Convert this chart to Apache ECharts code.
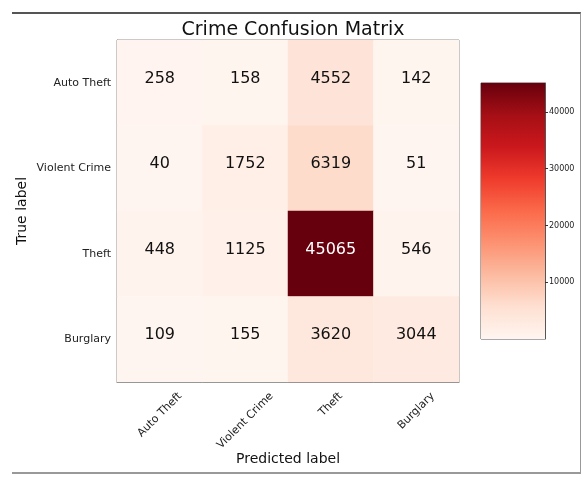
<!DOCTYPE html>
<html>
<head>
<meta charset="utf-8">
<title>Crime Confusion Matrix</title>
<script src="https://cdn.jsdelivr.net/npm/echarts@6/dist/echarts.min.js"></script>
<style>
  html, body { margin: 0; padding: 0; background: #fff; }
  #main { width: 585px; height: 478px; }
  /* screenshot frame round the figure */
  #frame {
    position: absolute; left: 12px; top: 12px; width: 568px; height: 458px;
    border-top: 2px solid #555; border-right: 1px solid #999; border-bottom: 2px solid #999;
    pointer-events: none;
  }
</style>
</head>
<body>
<div id="main"></div>
<div id="frame"></div>
<script>
// data
var classes = ['Auto Theft', 'Violent Crime', 'Theft', 'Burglary'];
var autoTheftRow = [258, 158, 4552, 142];
var violentCrimeRow = [40, 1752, 6319, 51];
var theftRow = [448, 1125, 45065, 546];
var burglaryRow = [109, 155, 3620, 3044];
var colorbarTicks = [10000, 20000, 30000, 40000];
// matplotlib Reds
var reds = ['#fff5f0', '#fee0d2', '#fcbba1', '#fc9272', '#fb6a4a', '#ef3b2c', '#cb181d', '#a50f15', '#67000d'];

(function () {
  var rows = [autoTheftRow, violentCrimeRow, theftRow, burglaryRow];
  var all = [].concat.apply([], rows);
  var vmin = Math.min.apply(null, all);
  var vmax = Math.max.apply(null, all);
  var thresh = vmax / 2;

  var cells = [];
  rows.forEach(function (row, i) {
    row.forEach(function (v, j) {
      cells.push({
        value: [j, i, v],
        label: { color: v > thresh ? '#ffffff' : '#111111' }
      });
    });
  });

  var font = 'DejaVu Sans';
  var xLabelSize = 11;

  // matplotlib centres a rotated tick label under its tick with the top of
  // the box just below the axis; push each label down by half its box height
  // (padding on the right moves it left in text space, an empty first line
  // of height p moves it down in text space)
  var ctx = document.createElement('canvas').getContext('2d');
  ctx.font = xLabelSize + 'px "' + font + '"';
  var xCats = classes.map(function (name) {
    var w = ctx.measureText(name).width;
    var h = xLabelSize * 1.15;
    var p = (w + h) / 2;
    return {
      value: name,
      textStyle: { align: 'center', verticalAlign: 'middle', lineHeight: p, padding: [0, p, 0, 0] }
    };
  });

  var myChart = echarts.init(document.getElementById('main'));
  var option = {
    animation: false,
    textStyle: { fontFamily: font },
    title: {
      text: 'Crime Confusion Matrix',
      left: 288,
      top: 16,
      textAlign: 'center',
      textStyle: { fontFamily: font, fontSize: 19, fontWeight: 'normal', color: '#111' }
    },
    grid: [
      { left: 117, top: 40, right: 126, bottom: 96, show: true, borderColor: '#777', borderWidth: 1 },
      { left: 481, top: 83, right: 40, bottom: 139, show: true, borderColor: '#555', borderWidth: 1 }
    ],
    xAxis: [
      {
        gridIndex: 0,
        type: 'category',
        data: xCats,
        name: 'Predicted label',
        nameLocation: 'middle',
        nameGap: 70,
        nameMoveOverlap: false,
        nameTextStyle: { fontSize: 14, color: '#111' },
        axisLine: { lineStyle: { color: '#777' } },
        axisTick: { alignWithLabel: true, interval: 0, length: 4, lineStyle: { color: '#333' } },
        axisLabel: {
          rotate: 45, interval: 0, hideOverlap: false,
          fontSize: xLabelSize, color: '#222', margin: 8,
          formatter: function (v) { return '\n' + v; }
        },
        splitLine: { show: false }
      },
      {
        gridIndex: 1,
        type: 'category',
        data: [''],
        show: false
      }
    ],
    yAxis: [
      {
        gridIndex: 0,
        type: 'category',
        data: classes,
        inverse: true,
        name: 'True label',
        nameLocation: 'middle',
        nameGap: 88,
        nameMoveOverlap: false,
        nameRotate: 90,
        nameTextStyle: { fontSize: 14, color: '#111' },
        axisLine: { lineStyle: { color: '#777' } },
        axisTick: { alignWithLabel: true, interval: 0, length: 4, lineStyle: { color: '#333' } },
        axisLabel: { fontSize: 11, color: '#222', margin: 6, interval: 0 },
        splitLine: { show: false }
      },
      {
        gridIndex: 1,
        type: 'value',
        position: 'right',
        min: vmin,
        max: vmax,
        axisLine: { show: true, lineStyle: { color: '#555' } },
        axisTick: { show: true, length: 3, customValues: colorbarTicks, lineStyle: { color: '#333' } },
        axisLabel: {
          fontSize: 8, color: '#222', margin: 4, customValues: colorbarTicks,
          formatter: function (v) { return String(v); }
        },
        splitLine: { show: false }
      }
    ],
    visualMap: {
      show: false,
      seriesIndex: 0,
      min: vmin,
      max: vmax,
      dimension: 2,
      inRange: { color: reds }
    },
    series: [
      {
        name: 'Confusion',
        type: 'heatmap',
        xAxisIndex: 0,
        yAxisIndex: 0,
        data: cells,
        label: {
          show: true,
          fontSize: 16,
          offset: [0, -4],
          formatter: function (p) { return p.value[2]; }
        },
        emphasis: { disabled: true }
      },
      {
        // colour bar
        name: 'Colorbar',
        type: 'bar',
        xAxisIndex: 1,
        yAxisIndex: 1,
        barWidth: '100%',
        data: [vmax],
        itemStyle: {
          color: {
            type: 'linear', x: 0, y: 1, x2: 0, y2: 0,
            colorStops: reds.map(function (c, k) {
              return { offset: k / (reds.length - 1), color: c };
            })
          }
        },
        emphasis: { disabled: true },
        silent: true
      }
    ]
  };
  myChart.setOption(option);
  window.addEventListener('resize', function () {
    myChart.resize();
  });
})();
</script>
</body>
</html>
